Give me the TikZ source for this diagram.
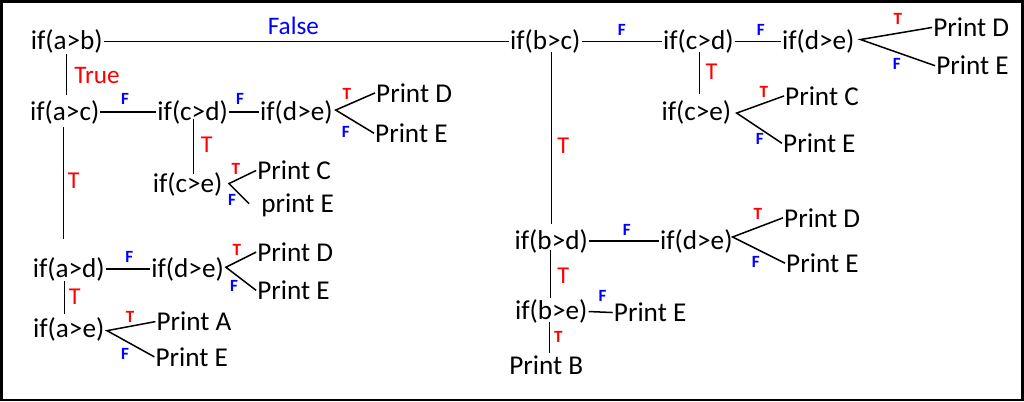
\documentclass[tikz,border=0pt]{standalone}
\usepackage{fontspec}
\setmainfont{Carlito}
\begin{document}
\begin{tikzpicture}[x=1pt,y=-1pt,
  t/.style={inner sep=1pt,yshift=-3pt,font=\fontsize{27}{30}\selectfont},
  lbl/.style={inner sep=0pt,yshift=-2pt,font=\fontsize{25}{27}\selectfont},
  sT/.style={inner sep=0pt,text=red,font=\bfseries\fontsize{17}{18}\selectfont},
  sF/.style={inner sep=0pt,text=blue,font=\bfseries\fontsize{17}{18}\selectfont},
  bT/.style={inner sep=0pt,text=red,font=\fontsize{24}{26}\selectfont},
  ln/.style={line width=1.5pt}]
\draw[line width=2.5pt] (5,5) rectangle (1019,401);
% left
\node[t] (ab) at (70,42) {if(a>b)};
\node[t] (bc) at (545,42) {if(b>c)};
\node[lbl,text=blue] (False) at (295,27) {False};
\draw[ln] (ab.east) -- (bc.west);
\node[t] (ac) at (68,112) {if(a>c)};
\draw[ln] (70,57) -- (70,98);
\node[lbl,text=red] (True) at (100,77) {True};
\node[t] (cd1) at (195,112) {if(c>d)};
\node[t] (de1) at (298,112) {if(d>e)};
\draw[ln] (ac.east) -- (cd1.west); \node[sF] at (128,102) {F};
\draw[ln] (cd1.east) -- (de1.west); \node[sF] at (242,102) {F};
\coordinate (f1) at (337,113);
\node[t,anchor=west] (pd1) at (376,93) {Print D};
\node[t,anchor=west] (pe1) at (375,133) {Print E};
\draw[ln] (pd1.west) -- (f1) -- (pe1.west);
\node[sT] at (348,97) {T}; \node[sF] at (347,135) {F};
\node[t] (ce1) at (190,184) {if(c>e)};
\draw[ln] (196,122) -- (196,176); \node[bT] at (209,147) {T};
\coordinate (f2) at (231,186);
\node[t,anchor=west] (pc1) at (258,170) {Print C};
\node[t,anchor=west] (pe2) at (262,205) {print E};
\draw[ln] (pc1.west) -- (f2) -- (251,206);
\node[sT] at (238,171) {T}; \node[sF] at (234,202) {F};
\draw[ln] (67,130) -- (67,241); \node[bT] at (77,183) {T};
\node[t] (ad) at (72,268) {if(a>d)};
\node[t] (de2) at (190,268) {if(d>e)};
\draw[ln] (ad.east) -- (de2.west); \node[sF] at (132,259) {F};
\coordinate (f3) at (228,269);
\node[t,anchor=west] (pd2) at (258,251) {Print D};
\node[t,anchor=west] (pe3) at (258,289) {Print E};
\draw[ln] (pd2.west) -- (f3) -- (pe3.west);
\node[sT] at (239,252) {T}; \node[sF] at (236,288) {F};
\draw[ln] (68,283) -- (68,315); \node[bT] at (78,298) {T};
\node[t] (ae) at (72,328) {if(a>e)};
\coordinate (f4) at (110,332);
\node[t,anchor=west] (pa) at (158,320) {Print A};
\node[t,anchor=west] (pe4) at (157,355) {Print E};
\draw[ln] (pa.west) -- (f4) -- (pe4.west);
\node[sT] at (133,318) {T}; \node[sF] at (128,355) {F};
% right
\node[t] (cd2) at (697,42) {if(c>d)};
\node[t] (de4) at (816,42) {if(d>e)};
\draw[ln] (bc.east) -- (cd2.west); \node[sF] at (621,33) {F};
\draw[ln] (cd2.east) -- (de4.west); \node[sF] at (759,33) {F};
\coordinate (f5) at (858,43);
\node[t,anchor=west] (pd3) at (929,28) {Print D};
\node[t,anchor=west] (pe5) at (932,66) {Print E};
\draw[ln] (pd3.west) -- (f5) -- (pe5.west);
\node[sT] at (895,23) {T}; \node[sF] at (894,67) {F};
\draw[ln] (698,55) -- (698,97); \node[bT] at (710,75) {T};
\node[t] (ce2) at (695,112) {if(c>e)};
\coordinate (f6) at (735,116);
\node[t,anchor=west] (pc2) at (782,96) {Print C};
\node[t,anchor=west] (pe6) at (780,143) {Print E};
\draw[ln] (pc2.west) -- (f6) -- (pe6.west);
\node[sT] at (762,95) {T}; \node[sF] at (758,142) {F};
\draw[ln] (551,55) -- (551,226); \node[bT] at (563,148) {T};
\node[t] (bd) at (551,240) {if(b>d)};
\node[t] (de3) at (695,240) {if(d>e)};
\draw[ln] (bd.east) -- (de3.west); \node[sF] at (626,232) {F};
\coordinate (f7) at (731,239);
\node[t,anchor=west] (pd4) at (781,217) {Print D};
\node[t,anchor=west] (pe7) at (783,262) {Print E};
\draw[ln] (pd4.west) -- (f7) -- (pe7.west);
\node[sT] at (756,216) {T}; \node[sF] at (754,264) {F};
\draw[ln] (550,252) -- (550,300); \node[bT] at (563,277) {T};
\node[t] (be) at (551,310) {if(b>e)};
\node[t,anchor=west] (pe8) at (612,311) {Print E};
\draw[ln] (be.east) -- (pe8.west); \node[sF] at (602,298) {F};
\draw[ln] (549,323) -- (549,354); \node[sT] at (558,338) {T};
\node[t] (pb) at (546,363) {Print B};
\end{tikzpicture}
\end{document}
